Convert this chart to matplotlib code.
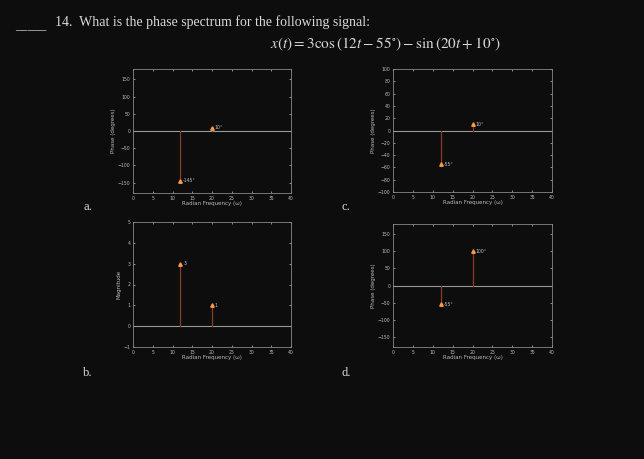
import matplotlib
matplotlib.use("Agg")
import matplotlib.pyplot as plt

W, H = 644, 459
freqs = [12, 20]
phase_a = [-145, 10]
labels_a = ["-145°", "10°"]
phase_c = [-55, 10]
labels_c = ["-55°", "10°"]
mag_b = [3, 1]
labels_b = ["3", "1"]
phase_d = [-55, 100]
labels_d = ["-55°", "100°"]

bg = "#0d0d0d"
fg = "#bbbbbb"
fig = plt.figure(figsize=(W/100, H/100), dpi=100, facecolor=bg)

def ax_at(l, t, r, b):
    return fig.add_axes([l/W, 1-b/H, (r-l)/W, (b-t)/H], facecolor=bg)

def panel(rect, vals, labs, ylim, yticks, ylabel):
    ax = ax_at(*rect)
    ax.axhline(0, color="#999999", lw=0.8)
    for f, v, s in zip(freqs, vals, labs):
        ax.plot([f, f], [0, v], color="#8a3a28", lw=0.9)
        ax.plot(f, v, marker="^", color="#ff9a40", ms=2.5)
        ax.text(f + 0.7, v, s, color=fg, fontsize=3.3, va="center")
    ax.set_xlim(0, 40); ax.set_ylim(*ylim)
    ax.set_xticks(range(0, 41, 5)); ax.set_yticks(yticks)
    ax.tick_params(colors=fg, labelsize=3.3, length=1.5, width=0.5, direction="in", top=True, right=True, pad=2)
    for s in ax.spines.values():
        s.set_color("#888888"); s.set_linewidth(0.6)
    ax.set_xlabel("Radian Frequency (\u03c9)", color=fg, fontsize=4, labelpad=0.5)
    ax.set_ylabel(ylabel, color=fg, fontsize=4, labelpad=1)
    return ax

panel((133, 69, 291, 193), phase_a, labels_a, (-180, 180), range(-150, 151, 50), "Phase (degrees)")
panel((393, 69, 552, 192), phase_c, labels_c, (-100, 100), range(-100, 101, 20), "Phase (degrees)")
panel((133, 222, 291, 347), mag_b, labels_b, (-1, 5), range(-1, 6), "Magnitude")
panel((393, 224, 552, 347), phase_d, labels_d, (-180, 180), range(-150, 151, 50), "Phase (degrees)")

tc = "#d8d8d8"
fig.text(15/W, 1-26/H, "_____", color=tc, fontsize=9, family="Liberation Serif", va="center")
fig.text(55/W, 1-22/H, "14.  What is the phase spectrum for the following signal:", color=tc,
         fontsize=10, family="Liberation Serif", va="center")
fig.text(270/W, 1-44/H, r"$x(t) = 3\cos\left(12t - 55^{\circ}\right) - \sin\left(20t + 10^{\circ}\right)$",
         color=tc, fontsize=11, va="center", math_fontfamily="stix")
for s, x, y in [("a.", 83, 207), ("b.", 83, 373), ("c.", 342, 207), ("d.", 342, 373)]:
    fig.text(x/W, 1-y/H, s, color=tc, fontsize=9, family="Liberation Serif", va="center")

fig.savefig("out.png", dpi=100, facecolor=bg)
